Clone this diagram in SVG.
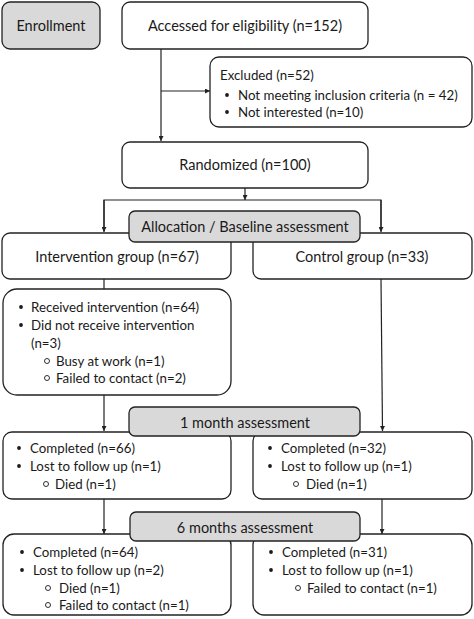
<svg xmlns="http://www.w3.org/2000/svg" width="474" height="619" viewBox="0 0 474 619">
<defs>
<marker id="ah" viewBox="0 0 10 10" refX="10" refY="5" markerWidth="5" markerHeight="5" orient="auto" markerUnits="userSpaceOnUse">
<path d="M0,0 L10,5 L0,10 z" fill="#222"/>
</marker>
<style>
.b{fill:#fff;stroke:#222;stroke-width:1.3}
.g{fill:#d9d9d9;stroke:#222;stroke-width:1.3}
text{font-family:Lato,"Liberation Sans",sans-serif;font-size:14.5px;fill:#1a1a1a}
text.s{font-size:13.3px}
.c{text-anchor:middle}
.l{fill:none;stroke:#222;stroke-width:1.2}
.d{fill:#1a1a1a}
.o{fill:none;stroke:#1a1a1a;stroke-width:0.9}
</style>
</defs>
<rect width="474" height="619" fill="#fff"/>
<g id="connectors">
<line class="l" x1="161" y1="49" x2="161" y2="141" marker-end="url(#ah)"/>
<line class="l" x1="161" y1="91" x2="210" y2="91" marker-end="url(#ah)"/>
<line class="l" x1="245" y1="188" x2="245" y2="200" marker-end="url(#ah)"/>
<polyline class="l" points="104,231 104,200 381,200 381,231"/>
<line class="l" x1="104" y1="200" x2="104" y2="232" marker-end="url(#ah)"/>
<line class="l" x1="381" y1="200" x2="381" y2="232" marker-end="url(#ah)"/>
<line class="l" x1="104" y1="279" x2="104" y2="289"/>
<line class="l" x1="104" y1="395" x2="104" y2="431" marker-end="url(#ah)"/>
<line class="l" x1="381" y1="279" x2="382.5" y2="431" marker-end="url(#ah)"/>
<line class="l" x1="104" y1="499" x2="104" y2="534" marker-end="url(#ah)"/>
<line class="l" x1="382" y1="499" x2="382" y2="534" marker-end="url(#ah)"/>
</g>
<g id="enrollment"><rect class="g" x="2" y="2" width="98" height="47" rx="8"/><text class="c" x="51" y="31">Enrollment</text></g>
<g id="accessed"><rect class="b" x="122" y="2" width="246" height="47" rx="8"/><text class="c" x="245" y="31">Accessed for eligibility (n=152)</text></g>
<g id="excluded"><rect class="b" x="210" y="57" width="262" height="70" rx="9"/>
<text class="s" x="220" y="80">Excluded (n=52)</text>
<circle class="d" cx="227" cy="95" r="1.9"/><text class="s" x="238" y="100">Not meeting inclusion criteria (n = 42)</text>
<circle class="d" cx="227" cy="112" r="1.9"/><text class="s" x="238" y="117">Not interested (n=10)</text></g>
<g id="randomized"><rect class="b" x="122" y="142" width="246" height="46" rx="8"/><text class="c" x="245" y="170">Randomized (n=100)</text></g>
<g id="intervention"><rect class="b" x="2" y="233" width="229" height="46" rx="8"/><text class="c" x="117" y="262">Intervention group (n=67)</text></g>
<g id="control"><rect class="b" x="253" y="233" width="219" height="46" rx="8"/><text class="c" x="362" y="262">Control group (n=33)</text></g>
<g id="allocation"><rect class="g" x="129" y="211" width="231" height="31" rx="6"/><text class="c" x="245" y="232">Allocation / Baseline assessment</text></g>
<g id="received"><rect class="b" x="3" y="289" width="228" height="106" rx="14"/>
<circle class="d" cx="21" cy="307" r="1.9"/><text class="s" x="31" y="312">Received intervention (n=64)</text>
<circle class="d" cx="21" cy="325" r="1.9"/><text class="s" x="31" y="330">Did not receive intervention</text>
<text class="s" x="31" y="348">(n=3)</text>
<circle class="o" cx="47" cy="361" r="2.5"/><text class="s" x="56" y="366">Busy at work (n=1)</text>
<circle class="o" cx="47" cy="378" r="2.5"/><text class="s" x="56" y="383">Failed to contact (n=2)</text></g>
<g id="m1-intervention"><rect class="b" x="3" y="432" width="228" height="67" rx="9"/>
<circle class="d" cx="19" cy="448" r="1.9"/><text class="s" x="30" y="453">Completed (n=66)</text>
<circle class="d" cx="19" cy="466" r="1.9"/><text class="s" x="30" y="471">Lost to follow up (n=1)</text>
<circle class="o" cx="46" cy="484" r="2.5"/><text class="s" x="55" y="489">Died (n=1)</text></g>
<g id="m1-control"><rect class="b" x="253" y="432" width="219" height="67" rx="9"/>
<circle class="d" cx="270" cy="448" r="1.9"/><text class="s" x="281" y="453">Completed (n=32)</text>
<circle class="d" cx="270" cy="466" r="1.9"/><text class="s" x="281" y="471">Lost to follow up (n=1)</text>
<circle class="o" cx="296" cy="484" r="2.5"/><text class="s" x="306" y="489">Died (n=1)</text></g>
<g id="month1"><rect class="g" x="129" y="407" width="231" height="29" rx="6"/><text class="c" x="245" y="428">1 month assessment</text></g>
<g id="m6-intervention"><rect class="b" x="3" y="534" width="228" height="81" rx="11"/>
<circle class="d" cx="22" cy="552" r="1.9"/><text class="s" x="33" y="557">Completed (n=64)</text>
<circle class="d" cx="22" cy="570" r="1.9"/><text class="s" x="33" y="575">Lost to follow up (n=2)</text>
<circle class="o" cx="48" cy="588" r="2.5"/><text class="s" x="59" y="593">Died (n=1)</text>
<circle class="o" cx="48" cy="605" r="2.5"/><text class="s" x="59" y="610">Failed to contact (n=1)</text></g>
<g id="m6-control"><rect class="b" x="253" y="534" width="219" height="81" rx="11"/>
<circle class="d" cx="271" cy="552" r="1.9"/><text class="s" x="282" y="557">Completed (n=31)</text>
<circle class="d" cx="271" cy="570" r="1.9"/><text class="s" x="282" y="575">Lost to follow up (n=1)</text>
<circle class="o" cx="298" cy="588" r="2.5"/><text class="s" x="307" y="593">Failed to contact (n=1)</text></g>
<g id="month6"><rect class="g" x="130" y="512" width="230" height="29" rx="6"/><text class="c" x="245" y="533">6 months assessment</text></g>
</svg>
